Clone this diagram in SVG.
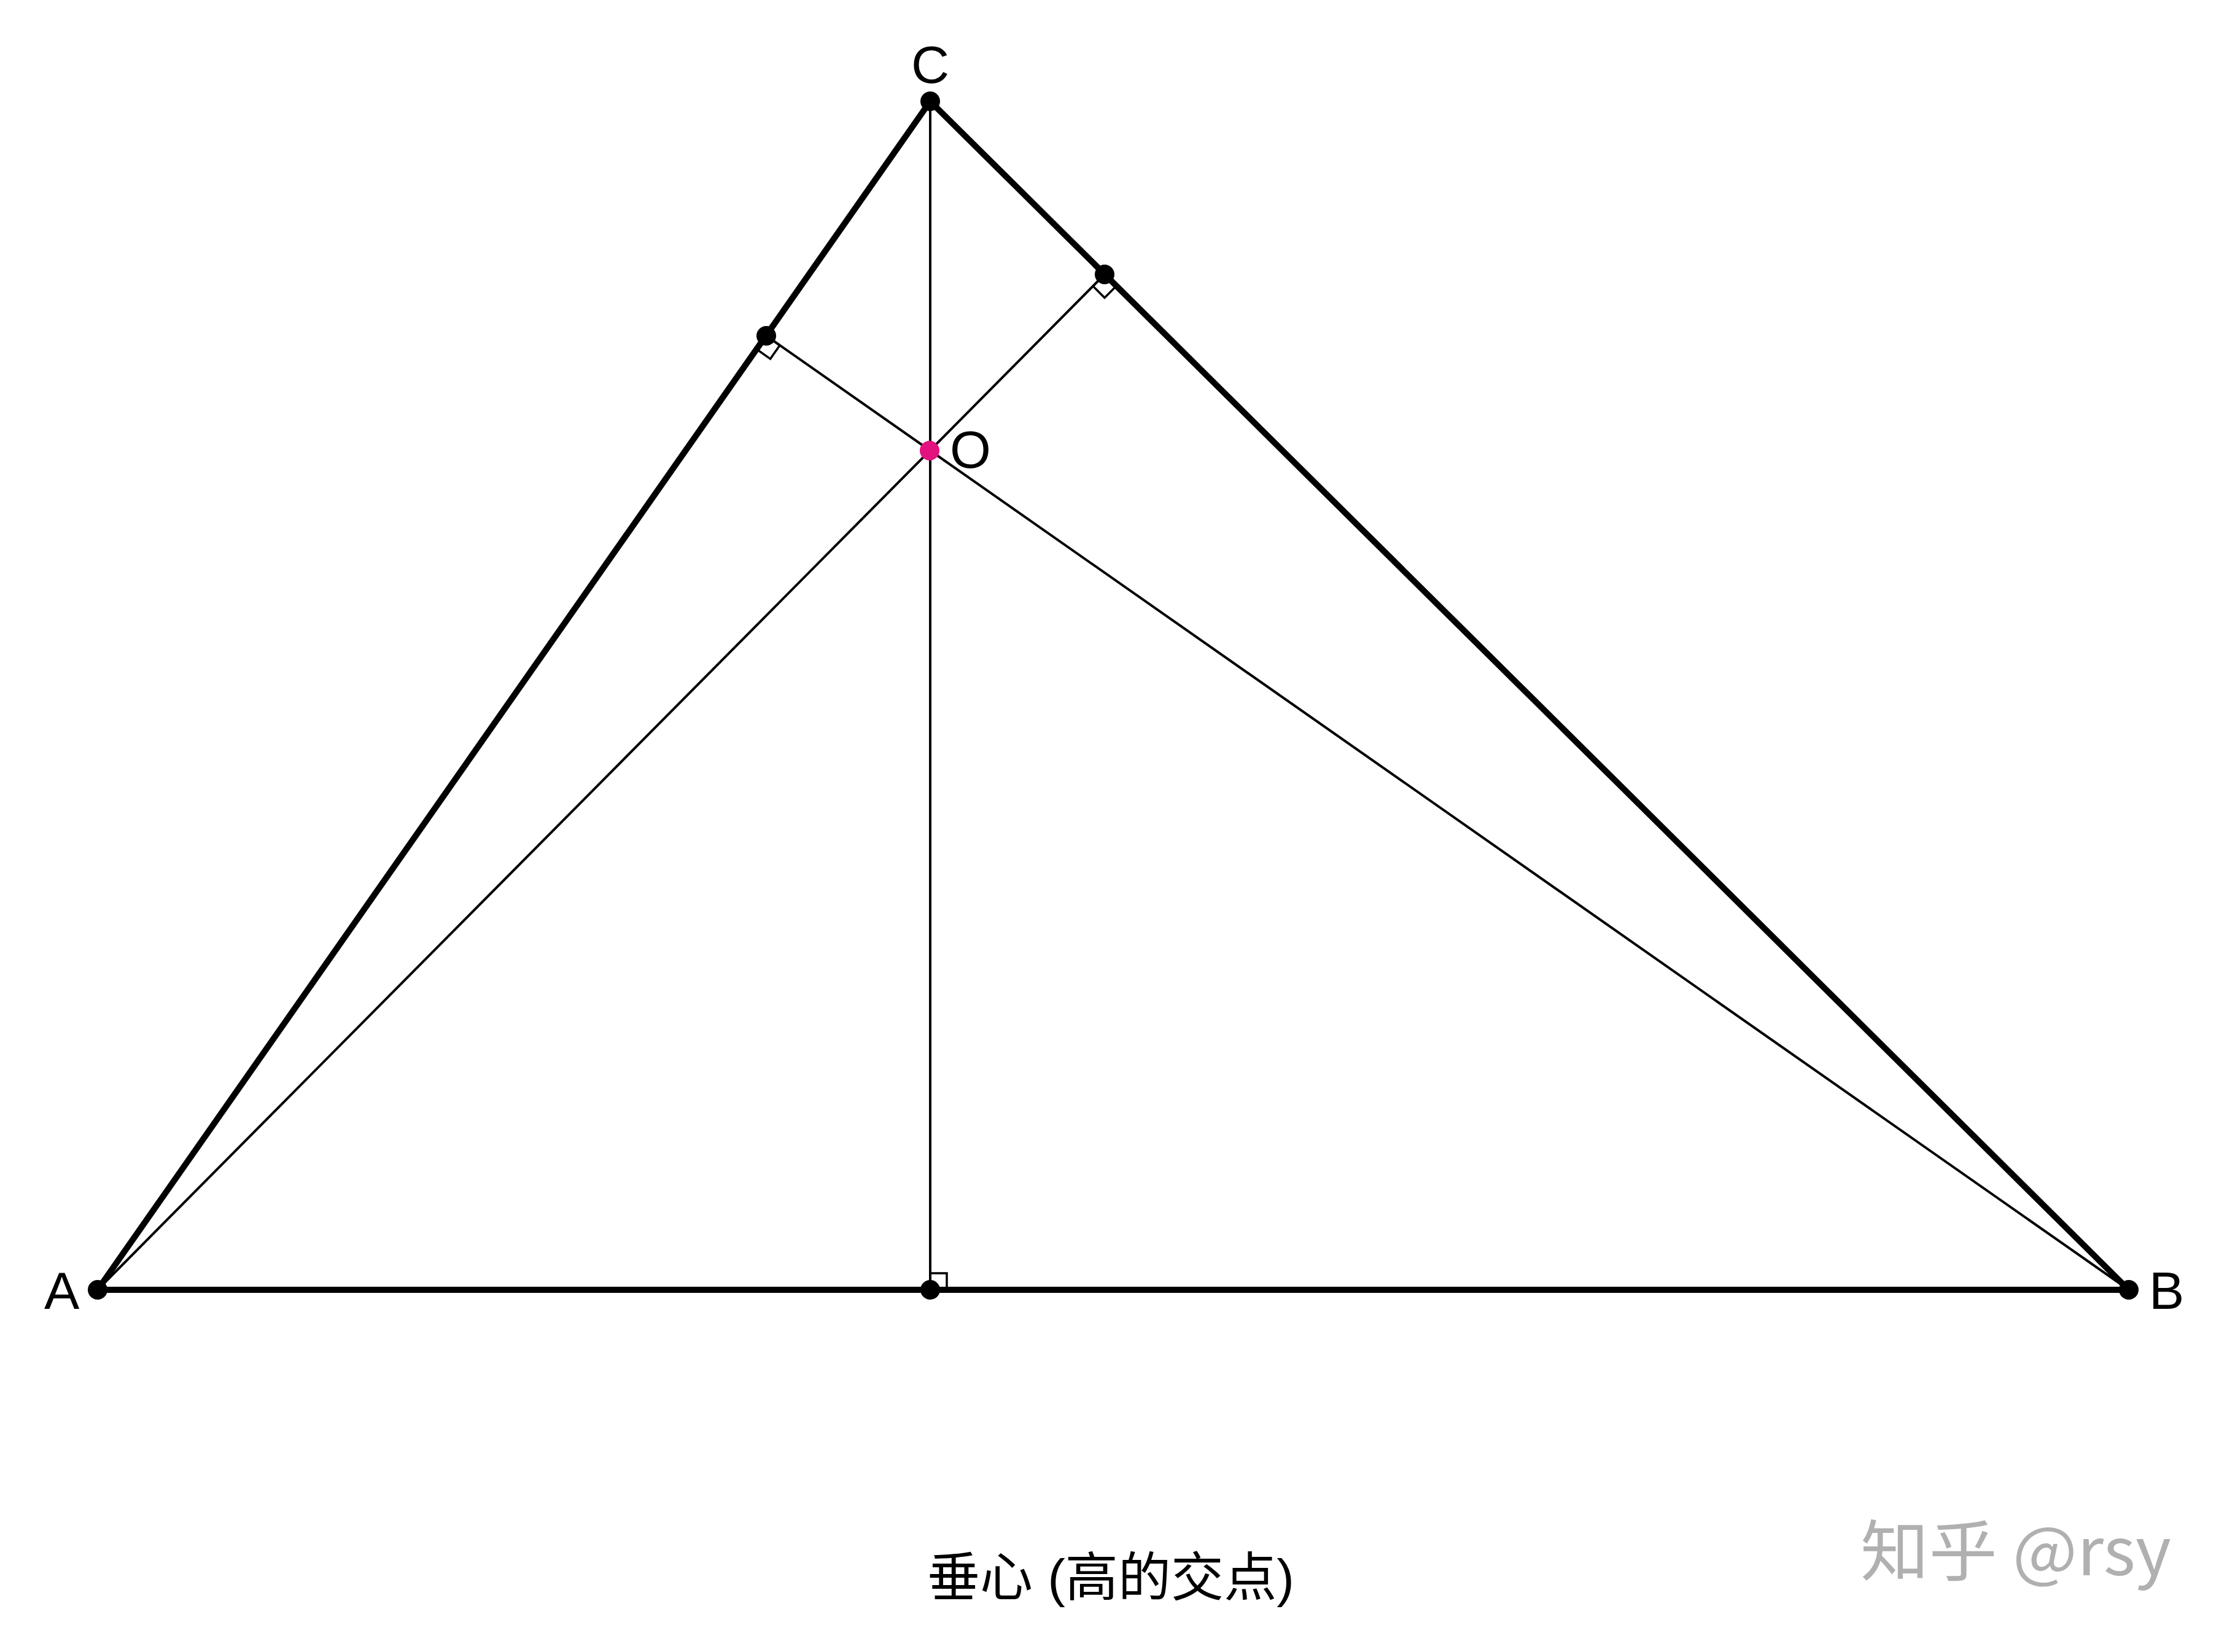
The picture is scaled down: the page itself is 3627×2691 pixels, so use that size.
<svg xmlns="http://www.w3.org/2000/svg" width="3627" height="2691" viewBox="0 0 3627 2691">
<style>
.side{stroke:#000;stroke-width:10;fill:none;stroke-linecap:round;stroke-linejoin:round}
.alt{stroke:#000;stroke-width:4;fill:none}
.mark{stroke:#000;stroke-width:3.5;fill:none}
.pt{fill:#000}
.lbl{font-family:"Liberation Sans",Arial,sans-serif;font-size:86px;fill:#000}
.cap{font-family:"Liberation Sans","Noto Sans CJK SC",sans-serif;font-size:86px;fill:#000}
.wm{font-family:"Noto Sans CJK SC","Liberation Sans",sans-serif;font-size:108px;fill:#b0b0b0}
</style>
<rect width="3627" height="2691" fill="#fff"/>
<g id="connectors">
<polygon class="side" points="159,2101 3467,2101 1515,165"/>
<line class="alt" x1="1515" y1="165" x2="1515" y2="2101"/>
<line class="alt" x1="159" y1="2101" x2="1799" y2="447"/>
<line class="alt" x1="3467" y1="2101" x2="1248" y2="547"/>
<polyline class="mark" points="1515,2074 1542,2074 1542,2101"/>
<polyline class="mark" points="1232.5,569 1254.6,584.6 1270,562.5"/>
<polyline class="mark" points="1818,466 1799,485 1780,466"/>
</g>
<g id="A"><circle class="pt" cx="159" cy="2101" r="16"/><text class="lbl" x="72" y="2132">A</text></g>
<g id="B"><circle class="pt" cx="3467" cy="2101" r="16"/><text class="lbl" x="3500" y="2132">B</text></g>
<g id="C"><circle class="pt" cx="1515" cy="165" r="16"/><text class="lbl" x="1515" y="135" text-anchor="middle">C</text></g>
<g id="O"><circle cx="1514" cy="734" r="16" fill="#e2127f"/><text class="lbl" x="1547" y="762">O</text></g>
<g id="H1"><circle class="pt" cx="1515" cy="2101" r="16"/></g>
<g id="H2"><circle class="pt" cx="1248" cy="547" r="16"/></g>
<g id="H3"><circle class="pt" cx="1799" cy="447" r="16"/></g>
<g id="caption"><text class="cap" x="1510" y="2600" textLength="598" lengthAdjust="spacingAndGlyphs">垂心 (高的交点)</text></g>
<g id="watermark"><text class="wm" x="3030" y="2566" textLength="506" lengthAdjust="spacingAndGlyphs">知乎 @rsy</text></g>
</svg>
